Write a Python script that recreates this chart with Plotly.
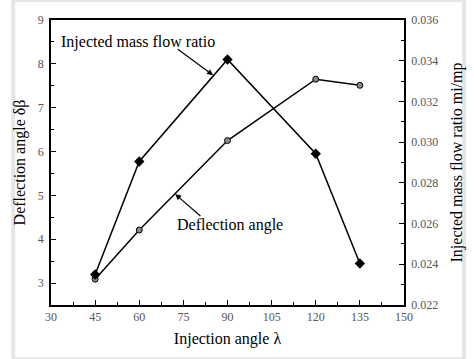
import plotly.graph_objects as go

angles = [45, 60, 90, 120, 135]
deflection = [3.09, 4.21, 6.25, 7.65, 7.51]
mass_ratio = [0.0235, 0.02905, 0.03406, 0.02943, 0.02404]

x_ticks = [30, 45, 60, 75, 90, 105, 120, 135, 150]
y_ticks = [3, 4, 5, 6, 7, 8, 9]
y2_ticks = [0.022, 0.024, 0.026, 0.028, 0.030, 0.032, 0.034, 0.036]

FONT = "Liberation Serif"
tickfont = dict(family=FONT, size=12, color="#555555")

fig = go.Figure()
fig.add_trace(go.Scatter(
    x=angles, y=deflection, mode="lines+markers",
    line=dict(color="black", width=1.5),
    marker=dict(symbol="circle", size=6, color="#8a8a8a", line=dict(color="black", width=1)),
    showlegend=False))
fig.add_trace(go.Scatter(
    x=angles, y=mass_ratio, mode="lines+markers", yaxis="y2",
    line=dict(color="black", width=1.5),
    marker=dict(symbol="diamond", size=8, color="black"),
    showlegend=False))

axis_common = dict(showline=True, linecolor="black", linewidth=1.5, ticks="inside",
                   ticklen=5, tickcolor="black", showgrid=False, zeroline=False,
                   tickfont=tickfont)

fig.update_layout(
    width=474, height=359,
    margin=dict(l=51, r=70, t=20, b=54),
    paper_bgcolor="white", plot_bgcolor="white",
    font=dict(family=FONT, color="black"),
    xaxis=dict(range=[30, 150], tickvals=x_ticks, mirror=True,
               minor=dict(ticks="inside", ticklen=3, dtick=7.5, tick0=30, tickcolor="black"),
               title=dict(text="Injection angle λ", font=dict(family=FONT, size=16), standoff=10),
               **axis_common),
    yaxis=dict(range=[2.5, 9], tickvals=y_ticks, ticklabelstandoff=3,
               minor=dict(ticks="inside", ticklen=3, dtick=0.5, tick0=2.5, tickcolor="black"),
               title=dict(text="Deflection angle δβ", font=dict(family=FONT, size=16), standoff=8),
               **axis_common),
    yaxis2=dict(range=[0.022, 0.036], tickvals=y2_ticks, tickformat=".3f",
                overlaying="y", side="right", ticklabelstandoff=3,
                minor=dict(ticks="inside", ticklen=3, dtick=0.001, tick0=0.022, tickcolor="black"),
                title=dict(text="Injected mass flow ratio mi/mp", font=dict(family=FONT, size=16), standoff=14),
                **axis_common),
)

fig.add_annotation(x=85.1, y=7.74, xref="x", yref="y", ax=72.6, ay=8.36, axref="x", ayref="y",
                   showarrow=True, arrowhead=2, arrowsize=1, arrowwidth=1.2, arrowcolor="black", text="")
fig.add_annotation(x=72.2, y=5.03, xref="x", yref="y", ax=81.3, ay=4.50, axref="x", ayref="y",
                   showarrow=True, arrowhead=2, arrowsize=1, arrowwidth=1.2, arrowcolor="black", text="")
fig.add_annotation(x=32.6, y=8.5, xref="x", yref="y", xanchor="left", yanchor="middle",
                   text="Injected mass flow ratio", showarrow=False,
                   font=dict(family=FONT, size=16, color="black"))
fig.add_annotation(x=72.3, y=4.32, xref="x", yref="y", xanchor="left", yanchor="middle",
                   text="Deflection angle", showarrow=False,
                   font=dict(family=FONT, size=16, color="black"))

fig.add_shape(type="rect", xref="paper", yref="paper", x0=-0.107, x1=1.17, y0=-0.19, y1=1.07,
              line=dict(color="#e6e6e6", width=4), layer="below")

fig.write_html("out.html")
